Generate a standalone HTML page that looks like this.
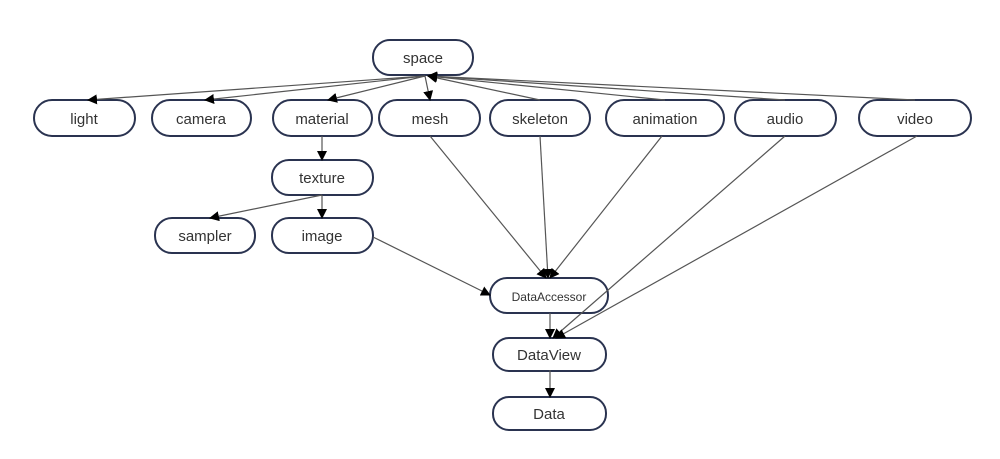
<!DOCTYPE html>
<html><head><style>body{margin:0;background:#fff}</style></head><body>
<svg width="1000" height="454" xmlns="http://www.w3.org/2000/svg" font-family="Liberation Sans, sans-serif">
<defs><marker id="a" markerWidth="10" markerHeight="10" refX="9" refY="5" orient="auto" markerUnits="userSpaceOnUse"><path d="M0,0 L10,5 L0,10 z" fill="#000"/></marker></defs>
<g stroke="#2a3350" stroke-width="2" fill="#fff">
<rect x="373" y="40" width="100" height="35" rx="17"/>
<rect x="34" y="100" width="101" height="36" rx="18"/>
<rect x="152" y="100" width="99" height="36" rx="18"/>
<rect x="273" y="100" width="99" height="36" rx="18"/>
<rect x="379" y="100" width="101" height="36" rx="18"/>
<rect x="490" y="100" width="100" height="36" rx="18"/>
<rect x="606" y="100" width="118" height="36" rx="18"/>
<rect x="735" y="100" width="101" height="36" rx="18"/>
<rect x="859" y="100" width="112" height="36" rx="18"/>
<rect x="272" y="160" width="101" height="35" rx="17"/>
<rect x="155" y="218" width="100" height="35" rx="17"/>
<rect x="272" y="218" width="101" height="35" rx="17"/>
<rect x="490" y="278" width="118" height="35" rx="17"/>
<rect x="493" y="338" width="113" height="33" rx="16"/>
<rect x="493" y="397" width="113" height="33" rx="16"/>
</g>
<g stroke="#555" stroke-width="1.2" fill="none" marker-end="url(#a)">
<line x1="425" y1="76" x2="88" y2="100"/>
<line x1="425" y1="76" x2="205" y2="100"/>
<line x1="425" y1="76" x2="328" y2="100"/>
<line x1="425" y1="76" x2="430" y2="100"/>
<line x1="540" y1="100" x2="428" y2="76"/>
<line x1="665" y1="100" x2="428" y2="76"/>
<line x1="785" y1="100" x2="428" y2="76"/>
<line x1="915" y1="100" x2="428" y2="76"/>
<line x1="322" y1="136" x2="322" y2="160"/>
<line x1="322" y1="195" x2="210" y2="218"/>
<line x1="322" y1="195" x2="322" y2="218"/>
<line x1="430" y1="136" x2="546" y2="278"/>
<line x1="540" y1="136" x2="548" y2="278"/>
<line x1="662" y1="136" x2="550" y2="278"/>
<line x1="373" y1="237" x2="490" y2="295"/>
<line x1="785" y1="136" x2="553" y2="338"/>
<line x1="917" y1="136" x2="556" y2="338"/>
<line x1="550" y1="313" x2="550" y2="338"/>
<line x1="550" y1="370" x2="550" y2="397"/>
</g>
<g font-size="15" fill="#333" text-anchor="middle">
<text x="423" y="63">space</text>
<text x="84" y="124">light</text>
<text x="201" y="124">camera</text>
<text x="322" y="124">material</text>
<text x="430" y="124">mesh</text>
<text x="540" y="124">skeleton</text>
<text x="665" y="124">animation</text>
<text x="785" y="124">audio</text>
<text x="915" y="124">video</text>
<text x="322" y="183">texture</text>
<text x="205" y="241">sampler</text>
<text x="322" y="241">image</text>
<text x="549" y="301" font-size="12">DataAccessor</text>
<text x="549" y="360">DataView</text>
<text x="549" y="419">Data</text>
</g>
</svg>
</body></html>
